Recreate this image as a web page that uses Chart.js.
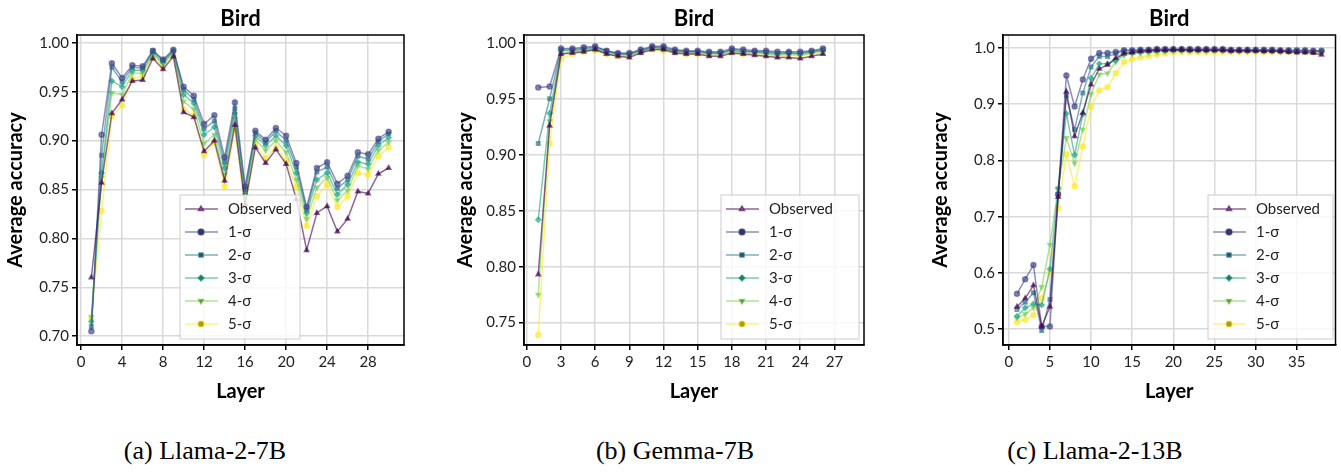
<!DOCTYPE html>
<html lang="en">
<head>
<meta charset="UTF-8">
<title>Bird</title>
<script src="https://cdn.jsdelivr.net/npm/chart.js"></script>
<style>
  body { margin: 0; background: #fff; width: 1341px; height: 475px; position: relative; overflow: hidden; }
  canvas { position: absolute; top: 0; }
  .cap { position: absolute; top: 436px; font-family: "Liberation Serif", "DejaVu Serif", serif; font-size: 26px; text-align: center; width: 300px; }
</style>
</head>
<body>
<canvas id="c1" style="left:0px"></canvas>
<canvas id="c2" style="left:450px"></canvas>
<canvas id="c3" style="left:925px"></canvas>
<div class="cap" style="left:55px">(a) Llama-2-7B</div>
<div class="cap" style="left:525px">(b) Gemma-7B</div>
<div class="cap" style="left:945px">(c) Llama-2-13B</div>
<script>
// series names and colours (viridis)
const seriesNames = ['Observed', '1-σ', '2-σ', '3-σ', '4-σ', '5-σ'];
const seriesColors = ['#440154', '#414487', '#2a788e', '#22a884', '#7ad151', '#fde725'];
const seriesMarkers = ['triangle', 'circle', 'rect', 'rectRot', 'triangle', 'circle'];

// (a) Llama-2-7B, layers 1..30
const llama7Obs = [0.760,0.857,0.928,0.942,0.961,0.962,0.984,0.973,0.986,0.929,0.924,0.889,0.900,0.859,0.916,0.835,0.893,0.877,0.891,0.876,0.840,0.788,0.826,0.833,0.807,0.820,0.848,0.846,0.866,0.872];
const llama7S1 = [0.705,0.906,0.979,0.964,0.977,0.976,0.992,0.983,0.993,0.955,0.946,0.917,0.926,0.883,0.939,0.853,0.910,0.901,0.913,0.905,0.877,0.832,0.872,0.878,0.856,0.864,0.888,0.886,0.902,0.909];
const llama7S2 = [0.710,0.885,0.975,0.960,0.975,0.974,0.992,0.982,0.992,0.952,0.942,0.912,0.920,0.878,0.933,0.850,0.908,0.898,0.910,0.900,0.873,0.829,0.868,0.873,0.851,0.860,0.884,0.881,0.899,0.907];
const llama7S3 = [0.715,0.867,0.961,0.955,0.972,0.972,0.990,0.980,0.991,0.947,0.938,0.906,0.914,0.872,0.928,0.845,0.905,0.895,0.905,0.895,0.867,0.826,0.860,0.867,0.845,0.855,0.878,0.876,0.895,0.903];
const llama7S4 = [0.720,0.862,0.949,0.947,0.969,0.969,0.988,0.978,0.990,0.940,0.932,0.897,0.906,0.865,0.922,0.840,0.901,0.890,0.900,0.888,0.860,0.820,0.852,0.862,0.839,0.849,0.874,0.871,0.890,0.898];
const llama7S5 = [0.718,0.828,0.925,0.936,0.963,0.966,0.986,0.975,0.988,0.932,0.926,0.885,0.898,0.853,0.912,0.832,0.896,0.882,0.893,0.880,0.853,0.813,0.843,0.855,0.832,0.843,0.867,0.865,0.884,0.893];

// (b) Gemma-7B, layers 1..26
const gemmaObs = [0.793,0.926,0.990,0.991,0.992,0.994,0.990,0.988,0.987,0.991,0.994,0.994,0.991,0.990,0.990,0.988,0.988,0.991,0.990,0.989,0.988,0.987,0.987,0.986,0.988,0.990];
const gemmaS1 = [0.960,0.961,0.995,0.995,0.996,0.997,0.993,0.991,0.991,0.994,0.997,0.997,0.994,0.993,0.993,0.992,0.992,0.995,0.994,0.993,0.993,0.992,0.992,0.992,0.993,0.995];
const gemmaS2 = [0.910,0.950,0.994,0.994,0.995,0.996,0.993,0.990,0.990,0.993,0.996,0.996,0.993,0.992,0.992,0.991,0.991,0.994,0.993,0.992,0.992,0.991,0.991,0.991,0.992,0.994];
const gemmaS3 = [0.842,0.937,0.993,0.993,0.994,0.995,0.992,0.990,0.990,0.993,0.996,0.995,0.993,0.992,0.992,0.991,0.991,0.993,0.992,0.992,0.991,0.990,0.991,0.990,0.992,0.993];
const gemmaS4 = [0.775,0.930,0.990,0.992,0.993,0.994,0.991,0.989,0.989,0.992,0.995,0.994,0.992,0.991,0.991,0.990,0.990,0.992,0.991,0.991,0.990,0.989,0.990,0.989,0.991,0.992];
const gemmaS5 = [0.739,0.910,0.986,0.990,0.992,0.993,0.990,0.988,0.988,0.991,0.994,0.993,0.991,0.990,0.990,0.989,0.989,0.991,0.990,0.990,0.989,0.988,0.989,0.988,0.990,0.991];

// (c) Llama-2-13B, layers 1..38
const llama13Obs = [0.540,0.555,0.578,0.505,0.540,0.735,0.922,0.843,0.885,0.935,0.963,0.970,0.982,0.990,0.992,0.994,0.995,0.996,0.996,0.997,0.997,0.996,0.996,0.996,0.996,0.996,0.995,0.995,0.995,0.995,0.994,0.994,0.994,0.993,0.992,0.992,0.991,0.988];
const llama13S1 = [0.563,0.589,0.614,0.505,0.505,0.740,0.951,0.896,0.944,0.981,0.991,0.991,0.993,0.996,0.996,0.997,0.997,0.998,0.998,0.998,0.998,0.998,0.998,0.998,0.998,0.998,0.997,0.997,0.997,0.997,0.997,0.997,0.996,0.996,0.996,0.996,0.995,0.995];
const llama13S2 = [0.535,0.548,0.565,0.498,0.553,0.740,0.915,0.855,0.920,0.966,0.985,0.985,0.990,0.995,0.995,0.996,0.996,0.997,0.997,0.997,0.997,0.997,0.997,0.997,0.997,0.997,0.996,0.996,0.996,0.996,0.996,0.996,0.995,0.995,0.995,0.995,0.994,0.994];
const llama13S3 = [0.523,0.538,0.545,0.543,0.607,0.750,0.883,0.810,0.882,0.946,0.972,0.972,0.978,0.990,0.992,0.993,0.994,0.995,0.995,0.996,0.996,0.996,0.996,0.996,0.996,0.996,0.995,0.995,0.995,0.995,0.995,0.995,0.994,0.994,0.994,0.994,0.994,0.994];
const llama13S4 = [0.520,0.527,0.538,0.575,0.650,0.750,0.840,0.795,0.855,0.918,0.953,0.955,0.975,0.987,0.989,0.991,0.992,0.993,0.994,0.995,0.995,0.995,0.995,0.995,0.995,0.995,0.994,0.994,0.994,0.994,0.994,0.994,0.994,0.994,0.993,0.993,0.993,0.993];
const llama13S5 = [0.513,0.517,0.525,0.555,0.600,0.715,0.811,0.754,0.825,0.895,0.925,0.930,0.955,0.975,0.980,0.983,0.986,0.988,0.990,0.992,0.993,0.993,0.993,0.993,0.993,0.993,0.993,0.993,0.993,0.993,0.993,0.993,0.993,0.993,0.993,0.993,0.993,0.993];

function makeDatasets(all) {
  return all.map((vals, i) => ({
    label: seriesNames[i],
    data: vals.map((v, j) => ({x: j + 1, y: v})),
    borderColor: seriesColors[i] + '99',
    backgroundColor: seriesColors[i] + '99',
    borderWidth: 1.5,
    pointStyle: seriesMarkers[i],
    rotation: i === 4 ? 180 : 0,
    pointRadius: 2.5,
    tension: 0
  }));
}

// draws title "Bird", the frame, and a matplotlib-like legend box inside the plot
const decor = {
  id: 'decor',
  afterDraw(chart, args, opts) {
    const c = chart.ctx, a = chart.chartArea;
    c.save();
    c.strokeStyle = '#000';
    c.lineWidth = 1.5;
    c.strokeRect(a.left, a.top, a.right - a.left, a.bottom - a.top);
    c.fillStyle = '#000';
    c.font = 'bold 22px Lato';
    c.textAlign = 'center';
    c.fillText('Bird', (a.left + a.right) / 2, 26);
    const x0 = a.left + opts.lx, y0 = opts.ly, w = opts.lw, h = 144;
    c.fillStyle = 'rgba(255,255,255,0.8)';
    c.strokeStyle = '#ccc';
    c.lineWidth = 1;
    c.fillRect(x0, y0, w, h);
    c.strokeRect(x0, y0, w, h);
    c.font = '15px Lato';
    c.textAlign = 'left';
    c.textBaseline = 'middle';
    chart.data.datasets.forEach((ds, i) => {
      const yy = y0 + 14 + i * 23;
      c.strokeStyle = ds.borderColor;
      c.lineWidth = 1.5;
      c.beginPath(); c.moveTo(x0 + 5, yy); c.lineTo(x0 + 38, yy); c.stroke();
      Chart.helpers.drawPoint(c, {pointStyle: ds.pointStyle, radius: 3, rotation: ds.rotation, borderWidth: 1}, x0 + 21, yy);
      c.fillStyle = ds.borderColor;
      c.fill();
      c.fillStyle = '#222';
      c.fillText(ds.label, x0 + 48, yy);
    });
    c.restore();
  }
};

function makeChart(id, w, all, xr, xstep, yr, ystep, ydec, yw, padR, legend) {
  const cv = document.getElementById(id);
  cv.width = w; cv.height = 420;
  cv.style.width = w + 'px'; cv.style.height = '420px';
  const gridCfg = {color: '#d9d9d9', lineWidth: 1.5, tickColor: '#000', tickLength: 5};
  return new Chart(cv, {
    type: 'line',
    data: {datasets: makeDatasets(all)},
    plugins: [decor],
    options: {
      responsive: false,
      animation: false,
      layout: {padding: {top: 35, right: padR, bottom: 12}},
      plugins: {legend: {display: false}, tooltip: {enabled: false}, decor: legend},
      scales: {
        x: {
          type: 'linear', min: xr[0], max: xr[1],
          grid: gridCfg,
          border: {color: '#000', width: 1.5},
          afterBuildTicks: s => { const t = []; for (let v = 0; v <= xr[1]; v += xstep) t.push({value: v}); s.ticks = t; },
          afterFit: s => { s.height = 63; },
          ticks: {color: '#222', font: {family: 'Lato', size: 15}, maxRotation: 0},
          title: {display: true, text: 'Layer', color: '#000', font: {family: 'Lato', size: 20, weight: 'bold'}}
        },
        y: {
          min: yr[0], max: yr[1],
          grid: gridCfg,
          border: {color: '#000', width: 1.5},
          afterBuildTicks: s => { const t = []; for (let v = yr[2]; v <= yr[3] + 1e-9; v += ystep) t.push({value: v}); s.ticks = t; },
          afterFit: s => { s.width = yw; },
          ticks: {color: '#222', font: {family: 'Lato', size: 15}, callback: v => v.toFixed(ydec)},
          title: {display: true, text: 'Average accuracy', color: '#000', font: {family: 'Lato', size: 20, weight: 'bold'}}
        }
      }
    }
  });
}

makeChart('c1', 410, [llama7Obs, llama7S1, llama7S2, llama7S3, llama7S4, llama7S5],
  [-0.4, 31.5], 4, [0.691, 1.008, 0.70, 1.00], 0.05, 2, 77, 6, {lx: 103, ly: 195, lw: 120});
makeChart('c2', 420, [gemmaObs, gemmaS1, gemmaS2, gemmaS3, gemmaS4, gemmaS5],
  [-0.25, 29.6], 3, [0.730, 1.007, 0.75, 1.00], 0.05, 2, 74, 6, {lx: 197, ly: 195, lw: 138});
makeChart('c3', 416, [llama13Obs, llama13S1, llama13S2, llama13S3, llama13S4, llama13S5],
  [-0.7, 39.7], 5, [0.472, 1.023, 0.5, 1.0], 0.1, 1, 78, 4, {lx: 205, ly: 195, lw: 125});
</script>
</body>
</html>
